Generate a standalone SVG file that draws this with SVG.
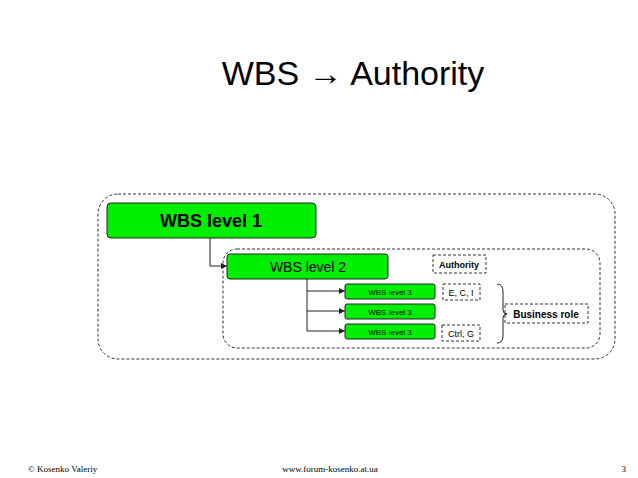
<svg xmlns="http://www.w3.org/2000/svg" width="638" height="478" viewBox="0 0 638 478">
<style>
.dash{fill:none;stroke:#333;stroke-width:1;stroke-dasharray:3,2}
.g{fill:#00ee00;stroke:#222;stroke-width:1}
.t{font-family:"Liberation Sans",Arial,sans-serif;fill:#000}
.c{fill:none;stroke:#222;stroke-width:1}
</style>
<defs><marker id="a" markerWidth="6" markerHeight="6" refX="6" refY="3" orient="auto" markerUnits="userSpaceOnUse"><path d="M0,0L6,3L0,6z" fill="#222"/></marker></defs>
<rect width="638" height="478" fill="#fff"/>
<text x="353" y="85" class="t" font-size="34" text-anchor="middle">WBS → Authority</text>
<rect class="dash" x="98" y="194" width="517" height="165" rx="20"/>
<rect class="dash" x="223" y="249" width="377" height="99" rx="14"/>
<g id="connectors">
<path class="c" d="M210,238V266H227" marker-end="url(#a)"/>
<path class="c" d="M307,279V331" />
<path class="c" d="M307,291H345" marker-end="url(#a)"/>
<path class="c" d="M307,311H345" marker-end="url(#a)"/>
<path class="c" d="M307,331H345" marker-end="url(#a)"/>
<path class="c" d="M497,284Q503,284 503,292V310Q503,314 507,314Q503,314 503,318V336Q503,343 497,343"/>
</g>
<g id="l1"><rect class="g" x="107" y="203" width="209" height="35" rx="4"/><text x="211" y="227" class="t" font-size="18" font-weight="bold" text-anchor="middle">WBS level 1</text></g>
<g id="l2"><rect class="g" x="227" y="254" width="161" height="25" rx="3"/><text x="308" y="272" class="t" font-size="14" text-anchor="middle">WBS level 2</text></g>
<g id="auth"><rect class="dash" x="433" y="255" width="53" height="18"/><text x="459" y="268" class="t" font-size="9" font-weight="bold" text-anchor="middle">Authority</text></g>
<g id="l3a"><rect class="g" x="345" y="284" width="90" height="15" rx="2"/><text x="390" y="295" class="t" font-size="8" text-anchor="middle">WBS level 3</text></g>
<g id="l3b"><rect class="g" x="345" y="304" width="90" height="15" rx="2"/><text x="390" y="315" class="t" font-size="8" text-anchor="middle">WBS level 3</text></g>
<g id="l3c"><rect class="g" x="345" y="324" width="90" height="15" rx="2"/><text x="390" y="335" class="t" font-size="8" text-anchor="middle">WBS level 3</text></g>
<g id="eci"><rect class="dash" x="443" y="284" width="37" height="16"/><text x="461" y="296" class="t" font-size="9" text-anchor="middle">E, C, I</text></g>
<g id="ctrl"><rect class="dash" x="442" y="325" width="38" height="16"/><text x="461" y="337" class="t" font-size="9" text-anchor="middle">Ctrl, G</text></g>
<g id="br"><rect class="dash" x="505" y="304" width="83" height="19"/><text x="546" y="318" class="t" font-size="10" font-weight="bold" text-anchor="middle">Business role</text></g>
<text x="28" y="472" font-family="Liberation Serif,serif" font-size="9">© Kosenko Valeriy</text>
<text x="330" y="472" font-family="Liberation Serif,serif" font-size="9" text-anchor="middle">www.forum-kosenko.at.ua</text>
<text x="626" y="472" font-family="Liberation Serif,serif" font-size="9" text-anchor="end">3</text>
</svg>
